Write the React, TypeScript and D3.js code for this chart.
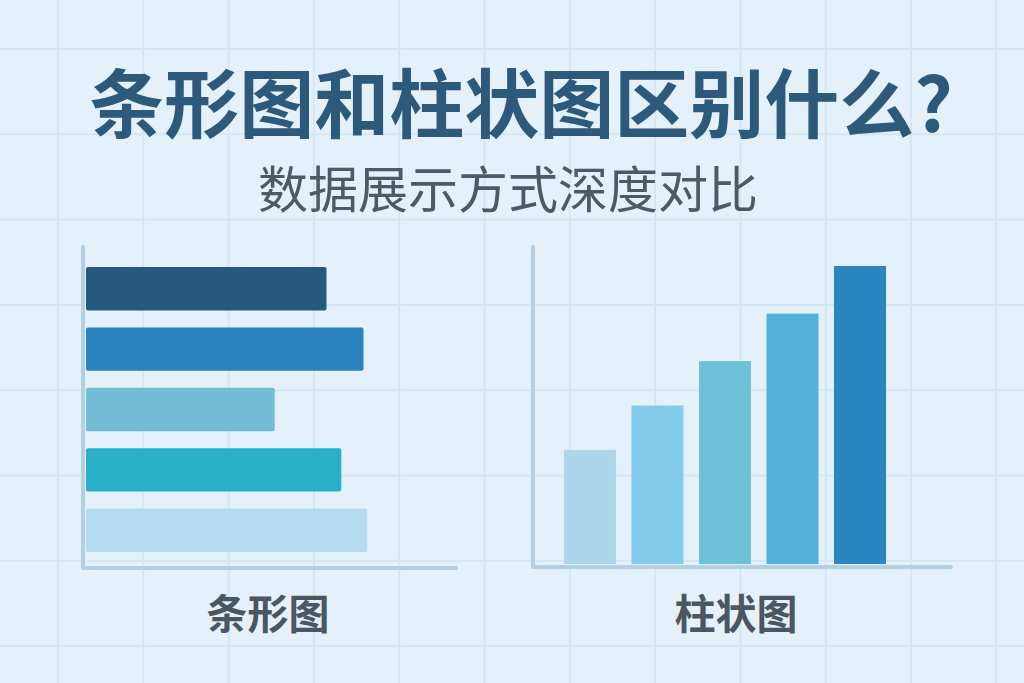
import * as d3 from "d3";

const WIDTH = 1024;
const HEIGHT = 683;

const TITLE = "条形图和柱状图区别什么?";
const SUBTITLE = "数据展示方式深度对比";

// bar chart (horizontal)
const barLabel = "条形图";
const barCategories = ["A", "B", "C", "D", "E"];
const barValues = [65, 75, 51, 69, 76];
const barColors = ["#255a7e", "#2a83bf", "#72bcd6", "#2ab0c6", "#b5dbee"];

// column chart (vertical)
const colLabel = "柱状图";
const colCategories = ["A", "B", "C", "D", "E"];
const colValues = [36, 50, 64, 79, 94];
const colColors = ["#aed6ea", "#82cbeb", "#6cc1d8", "#55b0d8", "#2a85c0"];

const FONT = "'Noto Sans CJK SC', 'Noto Sans', sans-serif";
const AXIS_COLOR = "#b3cfe3";

export default function App() {
  // background grid
  const gridStep = 85.3;
  const vLines = d3.range(58, WIDTH, gridStep);
  const hLines = d3.range(49, HEIGHT, gridStep);

  // left chart scales
  const barX = d3.scaleLinear().domain([0, 100]).range([86, 456]);
  const barY = d3
    .scaleBand<string>()
    .domain(barCategories)
    .range([267, 552])
    .paddingInner(0.28)
    .paddingOuter(0);

  // right chart scales
  const colX = d3
    .scaleBand<string>()
    .domain(colCategories)
    .range([564, 886])
    .paddingInner(0.23)
    .paddingOuter(0);
  const colY = d3.scaleLinear().domain([0, 100]).range([564, 247]);

  return (
    <svg
      width={WIDTH}
      height={HEIGHT}
      viewBox={`0 0 ${WIDTH} ${HEIGHT}`}
      style={{ position: "absolute", left: 0, top: 0, display: "block" }}
    >
      <rect width={WIDTH} height={HEIGHT} fill="#e4f1fa" />
      <g stroke="#d4e7f5" strokeWidth={2}>
        {vLines.map((x) => (
          <line key={`v${x}`} x1={x} x2={x} y1={0} y2={HEIGHT} />
        ))}
        {hLines.map((y) => (
          <line key={`h${y}`} x1={0} x2={WIDTH} y1={y} y2={y} />
        ))}
      </g>

      <text
        x={521}
        y={132}
        textAnchor="middle"
        fontFamily={FONT}
        fontWeight={700}
        fontSize={75}
        fill="#2d5a7b"
      >
        {TITLE}
      </text>
      <text
        x={508}
        y={208}
        textAnchor="middle"
        fontFamily={FONT}
        fontWeight={400}
        fontSize={50}
        fill="#4b5a66"
      >
        {SUBTITLE}
      </text>

      {/* bar chart */}
      <g>
        {barCategories.map((c, i) => (
          <rect
            key={c}
            x={barX(0)}
            y={barY(c)}
            width={barX(barValues[i]) - barX(0)}
            height={barY.bandwidth()}
            rx={2}
            fill={barColors[i]}
          />
        ))}
        <path
          d={`M83,247 L83,568 L456,568`}
          fill="none"
          stroke={AXIS_COLOR}
          strokeWidth={4}
          strokeLinecap="round"
          strokeLinejoin="round"
        />
        <text
          x={268}
          y={629}
          textAnchor="middle"
          fontFamily={FONT}
          fontWeight={700}
          fontSize={41}
          fill="#4a5661"
        >
          {barLabel}
        </text>
      </g>

      {/* column chart */}
      <g>
        {colCategories.map((c, i) => (
          <rect
            key={c}
            x={colX(c)}
            y={colY(colValues[i])}
            width={colX.bandwidth()}
            height={colY(0) - colY(colValues[i])}
            fill={colColors[i]}
          />
        ))}
        <path
          d={`M533,247 L533,567 L951,567`}
          fill="none"
          stroke={AXIS_COLOR}
          strokeWidth={4}
          strokeLinecap="round"
          strokeLinejoin="round"
        />
        <text
          x={736}
          y={629}
          textAnchor="middle"
          fontFamily={FONT}
          fontWeight={700}
          fontSize={41}
          fill="#4a5661"
        >
          {colLabel}
        </text>
      </g>
    </svg>
  );
}
